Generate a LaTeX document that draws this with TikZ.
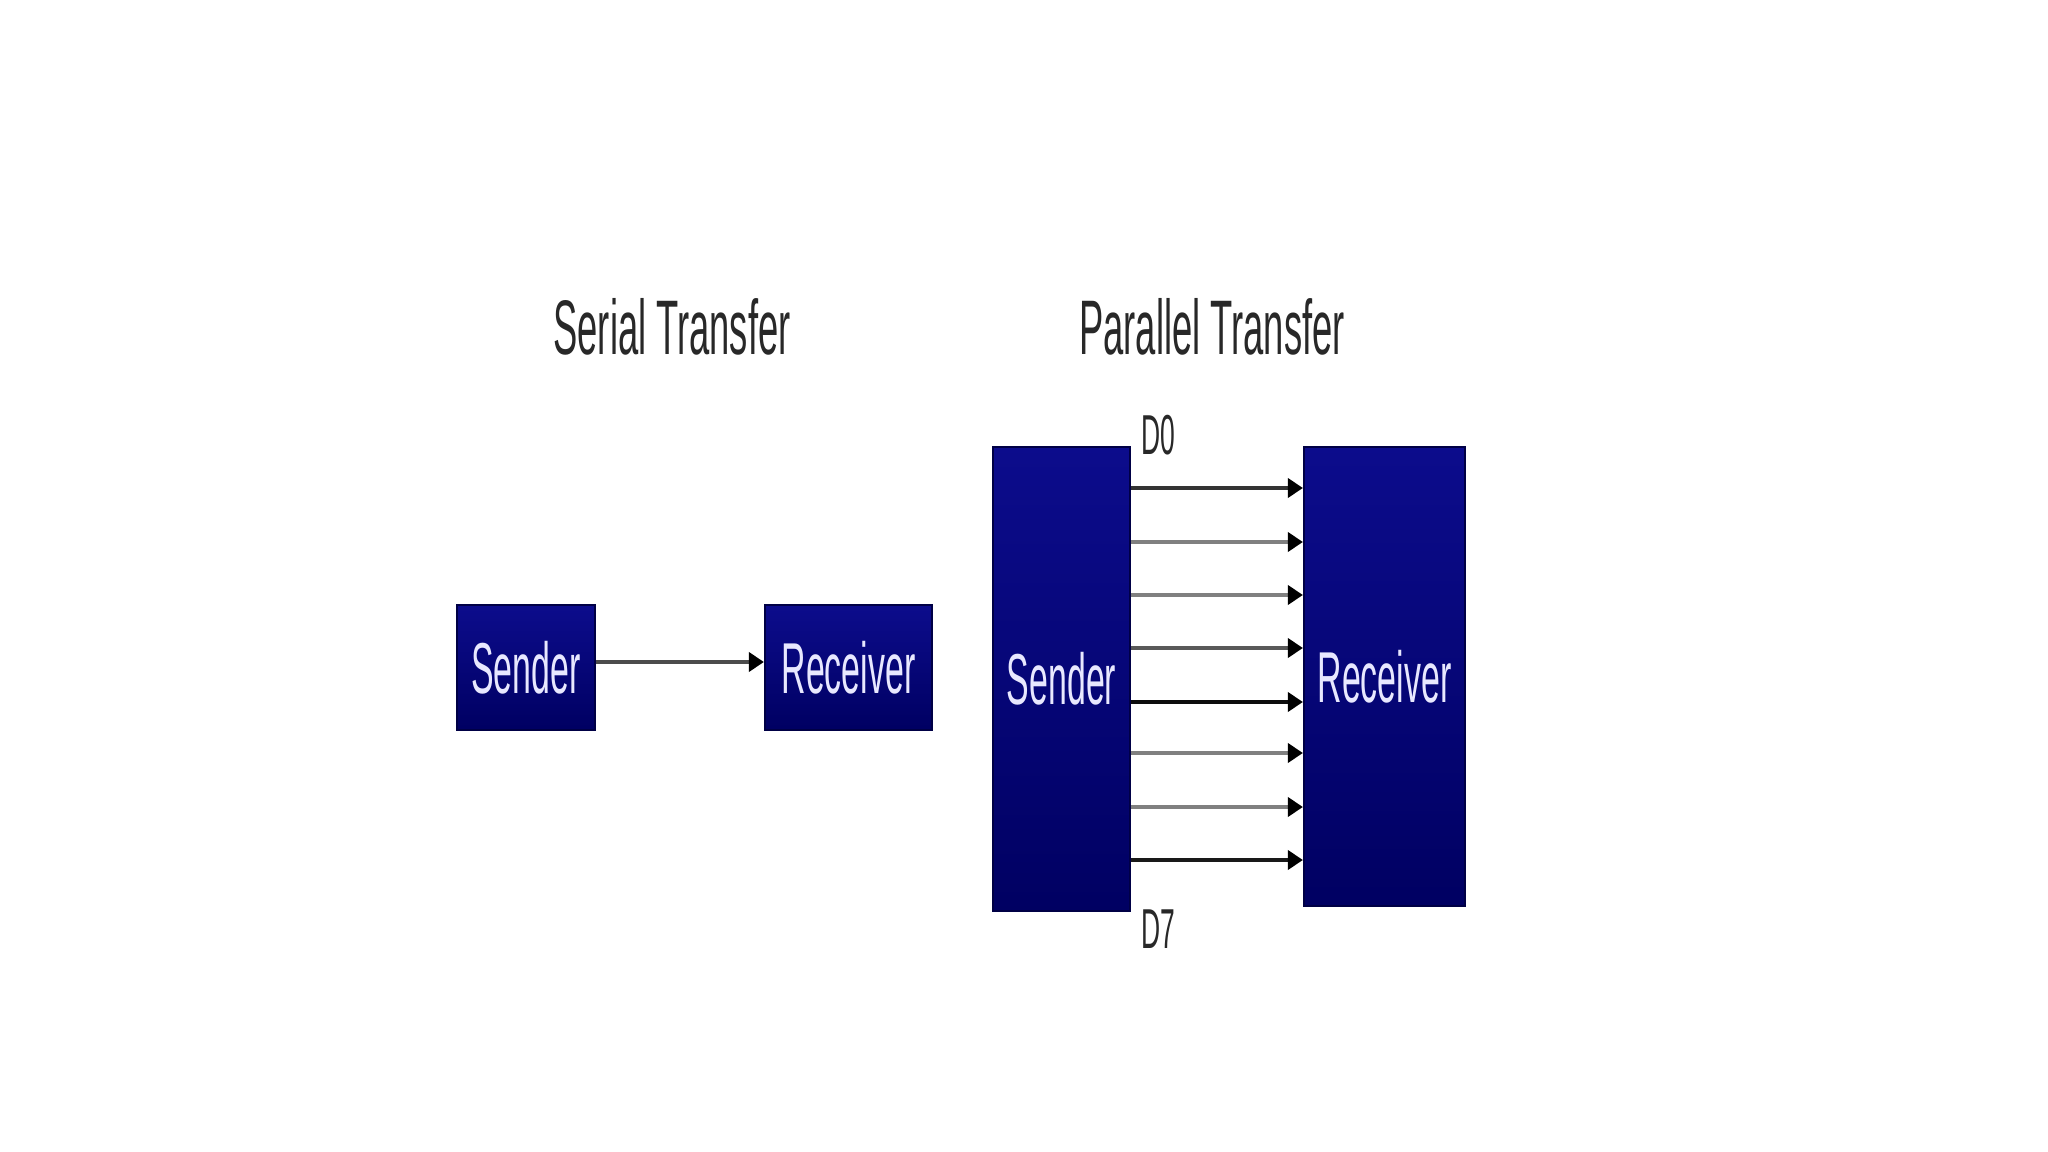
\documentclass[tikz,border=0pt]{standalone}
\usepackage{fontspec}
\setmainfont{Liberation Sans}[FakeStretch=0.47]
\usetikzlibrary{arrows.meta}
\definecolor{navytop}{RGB}{12,12,140}
\definecolor{navybot}{RGB}{0,0,98}
\definecolor{boxtext}{RGB}{232,232,255}
\definecolor{titletext}{RGB}{40,40,40}
\tikzset{
  blockbox/.style={draw=navybot!70!black, line width=0.6pt, top color=navytop, bottom color=navybot,
    text=boxtext, font=\fontsize{20.5}{24}\selectfont, inner sep=0pt},
  titletxt/.style={text=titletext, font=\fontsize{22}{26}\selectfont, inner sep=0pt},
  dlabel/.style={text=titletext, font=\fontsize{16}{18}\selectfont, inner sep=0pt},
  wire/.style={line width=1.35pt, -{Triangle[length=0.15cm,width=0.19cm,color=black,fill=black]}},
}
\begin{document}
\begin{tikzpicture}[x=0.01cm,y=-0.01cm]
\useasboundingbox (0,0) rectangle (2048,1152);
\fill[white] (0,0) rectangle (2048,1152);

\node[titletxt] (tser) at (672,327) {Serial Transfer};
\node[titletxt] (tpar) at (1212,327) {Parallel Transfer};

\node[blockbox, minimum width=1.38cm, minimum height=1.25cm] (ssend) at (526,667.5) {Sender};
\node[blockbox, minimum width=1.67cm, minimum height=1.25cm] (srecv) at (848.5,667.5) {Receiver};
\draw[wire, draw=black!70] (ssend.east |- 0,662) -- (srecv.west |- 0,662);

\node[blockbox, minimum width=1.37cm, minimum height=4.64cm] (psend) at (1061.5,679) {Sender};
\node[blockbox, minimum width=1.61cm, minimum height=4.59cm] (precv) at (1384.5,676.5) {Receiver};

\foreach \yy/\cc in {488/black!80, 542/black!50, 595/black!50, 648/black!65, 702/black!95, 753/black!50, 807/black!50, 860/black!90}{
  \draw[wire, draw=\cc] (psend.east |- 0,\yy) -- (precv.west |- 0,\yy);
}

\node[dlabel] (d0) at (1158,435) {D0};
\node[dlabel] (d7) at (1158,929) {D7};
\end{tikzpicture}
\end{document}
